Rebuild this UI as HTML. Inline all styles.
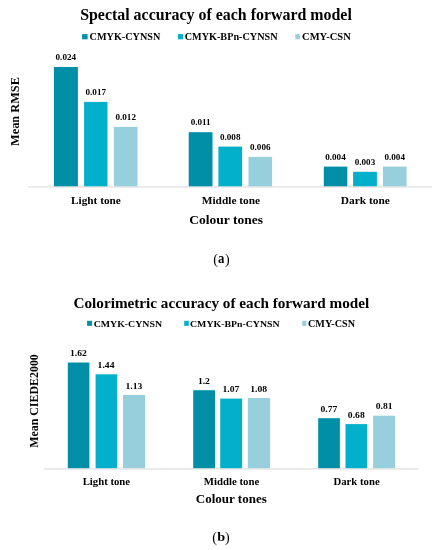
<!DOCTYPE html>
<html><head><meta charset="utf-8"><style>
html,body{margin:0;padding:0;background:#fff;width:437px;height:550px;overflow:hidden}
svg{display:block}
.t{font-family:"Liberation Serif","Times New Roman",serif;font-weight:bold;fill:#000}
.s{font-family:"Liberation Serif","Times New Roman",serif;fill:#000}
</style></head><body>
<svg width="437" height="550" viewBox="0 0 437 550">
<rect width="437" height="550" fill="#fff"/>
<text transform="translate(80.16,19.60) scale(1.0000,1)" class="t" font-size="15.920">Spectal accuracy of each forward model</text>
<rect x="82.10" y="34.10" width="5.50" height="5.20" fill="#018fa7"/>
<text transform="translate(89.59,39.60) scale(1.0300,1)" class="t" font-size="9.903">CMYK-CYNSN</text>
<rect x="177.90" y="34.10" width="5.10" height="5.20" fill="#02b0cb"/>
<text transform="translate(184.69,39.60) scale(1.0300,1)" class="t" font-size="9.913">CMYK-BPn-CYNSN</text>
<rect x="295.30" y="34.10" width="4.60" height="5.20" fill="#97cfdd"/>
<text transform="translate(302.07,39.60) scale(1.0300,1)" class="t" font-size="10.224">CMY-CSN</text>
<rect x="28.30" y="186.00" width="404.00" height="1.80" fill="#e9e9e9"/>
<rect x="53.90" y="67.00" width="24.00" height="119.30" fill="#018fa7"/>
<text transform="translate(55.57,60.20) scale(1.0000,1)" class="t" font-size="9.100">0.024</text>
<rect x="84.10" y="101.90" width="23.40" height="84.40" fill="#02b0cb"/>
<text transform="translate(85.51,95.10) scale(1.0000,1)" class="t" font-size="9.100">0.017</text>
<rect x="113.90" y="126.90" width="23.60" height="59.40" fill="#97cfdd"/>
<text transform="translate(115.49,120.10) scale(1.0000,1)" class="t" font-size="9.100">0.012</text>
<rect x="188.70" y="132.20" width="23.80" height="54.10" fill="#018fa7"/>
<text transform="translate(190.68,125.40) scale(1.0000,1)" class="t" font-size="9.100">0.011</text>
<rect x="218.40" y="146.60" width="23.70" height="39.70" fill="#02b0cb"/>
<text transform="translate(219.99,139.80) scale(1.0000,1)" class="t" font-size="9.100">0.008</text>
<rect x="248.50" y="156.90" width="23.60" height="29.40" fill="#97cfdd"/>
<text transform="translate(250.03,150.10) scale(1.0000,1)" class="t" font-size="9.100">0.006</text>
<rect x="323.80" y="166.60" width="23.50" height="19.70" fill="#018fa7"/>
<text transform="translate(325.22,159.80) scale(1.0000,1)" class="t" font-size="9.100">0.004</text>
<rect x="353.10" y="171.80" width="23.80" height="14.50" fill="#02b0cb"/>
<text transform="translate(354.75,165.00) scale(1.0000,1)" class="t" font-size="9.100">0.003</text>
<rect x="383.00" y="166.60" width="23.60" height="19.70" fill="#97cfdd"/>
<text transform="translate(384.47,159.80) scale(1.0000,1)" class="t" font-size="9.100">0.004</text>
<text transform="translate(71.00,203.80) scale(1.0300,1)" class="t" font-size="10.969">Light tone</text>
<text transform="translate(201.70,203.80) scale(1.0300,1)" class="t" font-size="11.052">Middle tone</text>
<text transform="translate(340.80,203.80) scale(1.0300,1)" class="t" font-size="11.070">Dark tone</text>
<text transform="translate(189.22,223.60) scale(1.0300,1)" class="t" font-size="13.156">Colour tones</text>
<text transform="translate(18.60,146.02) rotate(-90)" class="t" font-size="12.372">Mean RMSE</text>
<text transform="translate(213.36,263.70) scale(1.0009,1)" class="s" font-size="14.105">(</text>
<text transform="translate(217.98,263.45) scale(0.8665,1)" class="t" font-size="14.792">a</text>
<text transform="translate(225.05,263.70) scale(0.9912,1)" class="s" font-size="14.105">)</text>
<text transform="translate(73.54,307.60) scale(1.0700,1)" class="t" font-size="14.208">Colorimetric accuracy of each forward model</text>
<rect x="87.10" y="320.80" width="5.00" height="5.10" fill="#018fa7"/>
<text transform="translate(93.71,326.60) scale(1.0700,1)" class="t" font-size="9.193">CMYK-CYNSN</text>
<rect x="184.20" y="320.80" width="4.60" height="5.10" fill="#02b0cb"/>
<text transform="translate(190.01,326.60) scale(1.0700,1)" class="t" font-size="9.212">CMYK-BPn-CYNSN</text>
<rect x="302.20" y="320.80" width="4.20" height="5.10" fill="#97cfdd"/>
<text transform="translate(307.99,326.60) scale(1.0700,1)" class="t" font-size="9.494">CMY-CSN</text>
<rect x="43.70" y="468.00" width="375.10" height="1.80" fill="#e9e9e9"/>
<rect x="67.80" y="362.50" width="21.60" height="105.70" fill="#018fa7"/>
<text transform="translate(69.99,356.20) scale(1.0700,1)" class="t" font-size="9.000">1.62</text>
<rect x="95.60" y="374.30" width="21.50" height="93.90" fill="#02b0cb"/>
<text transform="translate(97.62,368.00) scale(1.0700,1)" class="t" font-size="9.000">1.44</text>
<rect x="123.00" y="395.00" width="22.10" height="73.20" fill="#97cfdd"/>
<text transform="translate(125.41,388.70) scale(1.0700,1)" class="t" font-size="9.000">1.13</text>
<rect x="193.20" y="390.20" width="21.80" height="78.00" fill="#018fa7"/>
<text transform="translate(197.90,383.90) scale(1.0700,1)" class="t" font-size="9.000">1.2</text>
<rect x="220.20" y="398.60" width="21.90" height="69.60" fill="#02b0cb"/>
<text transform="translate(222.46,392.30) scale(1.0700,1)" class="t" font-size="9.000">1.07</text>
<rect x="247.80" y="398.00" width="22.30" height="70.20" fill="#97cfdd"/>
<text transform="translate(250.30,391.70) scale(1.0700,1)" class="t" font-size="9.000">1.08</text>
<rect x="318.20" y="418.20" width="21.70" height="50.00" fill="#018fa7"/>
<text transform="translate(320.56,411.90) scale(1.0700,1)" class="t" font-size="9.000">0.77</text>
<rect x="345.50" y="424.10" width="21.60" height="44.10" fill="#02b0cb"/>
<text transform="translate(347.85,417.80) scale(1.0700,1)" class="t" font-size="9.000">0.68</text>
<rect x="373.10" y="415.70" width="22.00" height="52.50" fill="#97cfdd"/>
<text transform="translate(375.75,409.40) scale(1.0700,1)" class="t" font-size="9.000">0.81</text>
<text transform="translate(82.71,485.00) scale(1.0700,1)" class="t" font-size="10.024">Light tone</text>
<text transform="translate(203.81,485.00) scale(1.0700,1)" class="t" font-size="10.089">Middle tone</text>
<text transform="translate(333.51,485.00) scale(1.0700,1)" class="t" font-size="10.042">Dark tone</text>
<text transform="translate(195.85,502.50) scale(1.0700,1)" class="t" font-size="12.160">Colour tones</text>
<text transform="translate(38.00,447.81) rotate(-90)" class="t" font-size="11.924">Mean CIEDE2000</text>
<text transform="translate(212.26,541.69) scale(0.9633,1)" class="s" font-size="14.656">(</text>
<text transform="translate(217.32,541.17) scale(1.0980,1)" class="t" font-size="13.050">b</text>
<text transform="translate(225.05,541.69) scale(0.9539,1)" class="s" font-size="14.656">)</text>
</svg>
</body></html>
